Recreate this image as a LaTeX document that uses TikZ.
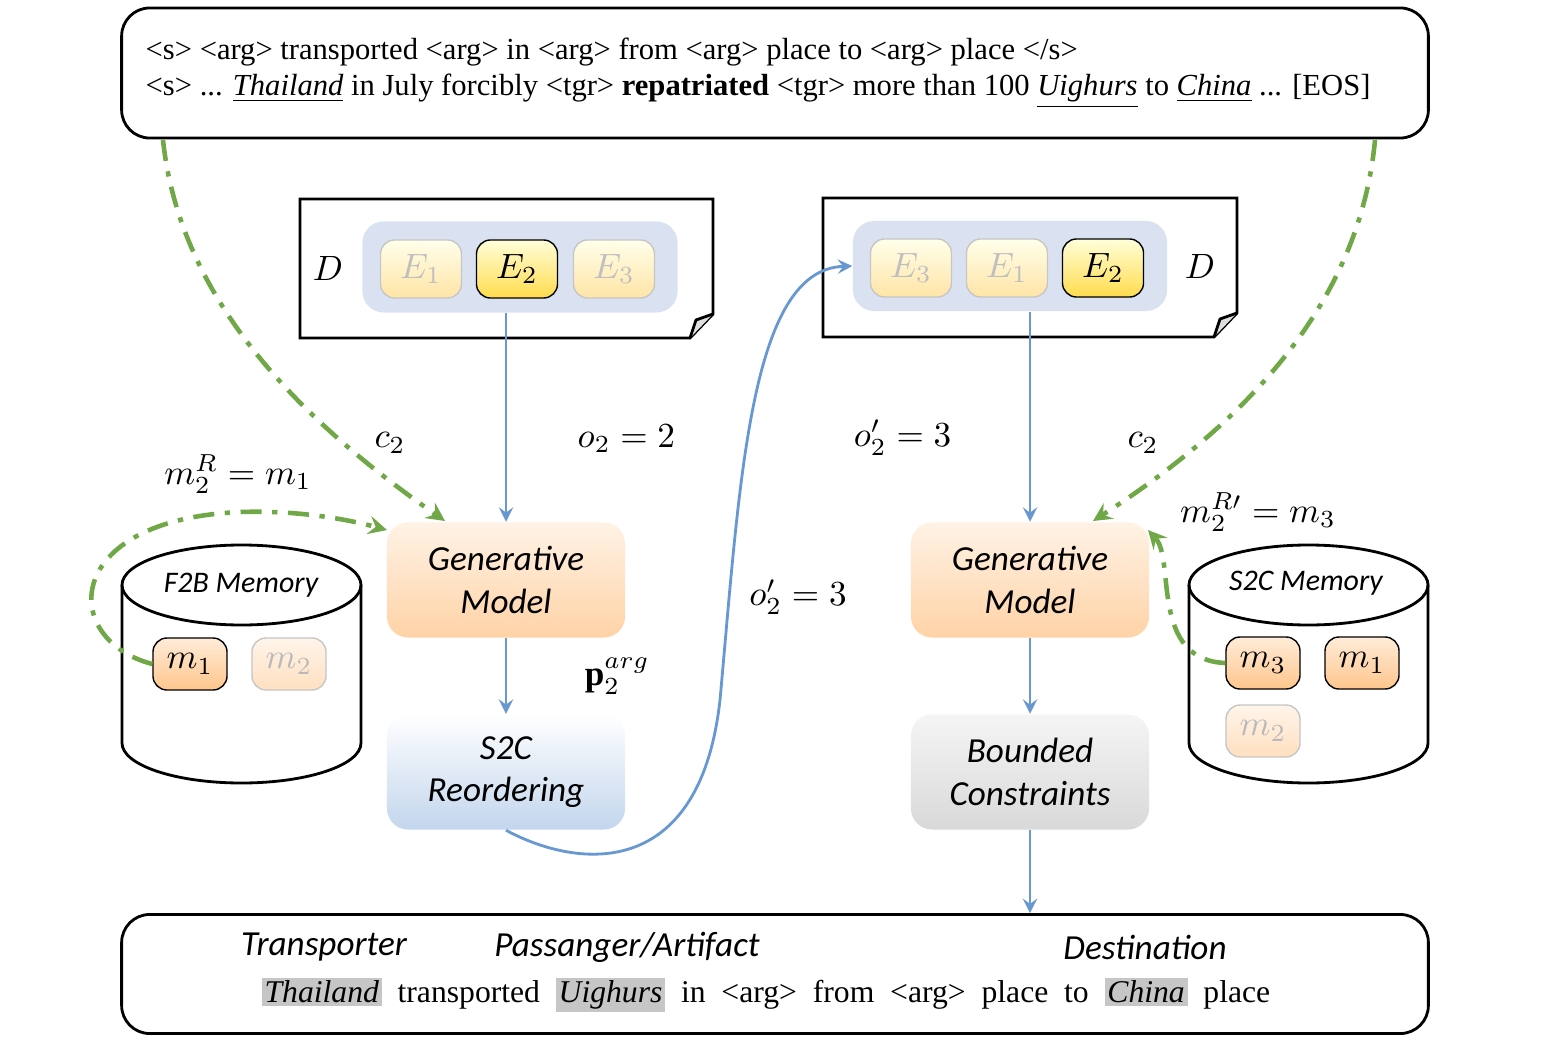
\documentclass[tikz,border=0pt]{standalone}
\usepackage{fontspec}
\setmainfont{Liberation Serif}
\newfontfamily\carl{Carlito}
\usepackage{amsmath}
\usetikzlibrary{positioning}
\usetikzlibrary{calc}
\definecolor{flowblue}{RGB}{104,152,210}
\definecolor{dashgreen}{RGB}{112,168,72}
\definecolor{innerblue}{RGB}{218,226,242}
\tikzstyle{arrow}= [thick, ->, >=stealth, flowblue]
\tikzstyle{garrow}= [line width=1.3pt, ->, >=stealth, dashgreen, dash pattern=on 6pt off 3pt on 1.5pt off 3pt]
\newcommand{\hlw}[1]{{\setlength{\fboxsep}{0.8pt}\colorbox{gray!45}{\textit{#1}}}}

\begin{document}
\begin{tikzpicture}[
		x=0.01cm, y=-0.01cm,
    every node/.style={inner sep=0pt},
    panel/.style={draw,thick,rounded corners=8pt},
    block/.style={rounded corners=6pt,minimum width=2.38cm,minimum height=1.15cm,
      align=center,font=\carl\itshape\fontsize{10}{12}\selectfont},
    ebox/.style={draw,rounded corners=4pt,minimum width=0.81cm,minimum height=0.58cm,
      top color=yellow!15,bottom color=yellow!60!orange!70,font=\fontsize{10}{12}\selectfont},
    faded/.style={draw=gray!45,top color=yellow!8,bottom color=yellow!40!orange!35,text=gray!50},
    mbox/.style={draw,rounded corners=4pt,minimum width=0.74cm,minimum height=0.52cm,
      top color=orange!15,bottom color=orange!45,font=\fontsize{10}{12}\selectfont},
    mfaded/.style={draw=gray!45,top color=orange!8,bottom color=orange!25,text=gray!55},
    lab/.style={font=\fontsize{10}{12}\selectfont,text=black}
	]
  \useasboundingbox (0,0) rectangle (1564,1040);

  % top sentence
  \node[panel,minimum width=13.06cm,minimum height=1.30cm] (top) at (775,73) {};
  \node[anchor=west,align=left,font=\fontsize{8.7}{10.3}\selectfont] (sent) at (145,73)
    {<s> <arg> transported <arg> in <arg> from <arg> place to <arg> place </s>\\
     <s> ... \underline{\textit{Thailand}} in July forcibly <tgr> \textbf{repatriated} <tgr> more than 100 \underline{\textit{Uighurs}} to \underline{\textit{China}} ... [EOS]};

  % left document
  \draw[thick] (300,199) -- (713,199) -- (713,314) -- (690,338) -- (300,338) -- cycle;
  \draw[thick,fill=gray!25] (713,314) -- (696,320) -- (690,338);
  \node[fill=innerblue,rounded corners=6pt,minimum width=3.15cm,minimum height=0.91cm] (innl) at (520,267) {};
  \node[ebox,faded] (E1l) at (421,269) {$E_1$};
  \node[ebox] (E2l) at (517,269) {$E_2$};
  \node[ebox,faded] (E3l) at (614,269) {$E_3$};
  \node[lab] (Dl) at (328,268) {$D$};

  % right document
  \draw[thick] (823,198) -- (1237,198) -- (1237,313) -- (1214,337) -- (823,337) -- cycle;
  \draw[thick,fill=gray!25] (1237,313) -- (1220,319) -- (1214,337);
  \node[fill=innerblue,rounded corners=6pt,minimum width=3.14cm,minimum height=0.90cm] (innr) at (1010,266) {};
  \node[ebox,faded] (E3r) at (911,268) {$E_3$};
  \node[ebox,faded] (E1r) at (1007,268) {$E_1$};
  \node[ebox] (E2r) at (1103,268) {$E_2$};
  \node[lab] (Dr) at (1200,266) {$D$};

  % blocks
  \node[block,top color=orange!10,bottom color=orange!35] (gml) at (506,580) {Generative\\Model};
  \node[block,top color=white,bottom color=flowblue!40] (s2c) at (506,772) {S2C\\Reordering};
  \node[block,top color=orange!10,bottom color=orange!35] (gmr) at (1030,580) {Generative\\Model};
  \node[block,top color=gray!8,bottom color=gray!30] (bnd) at (1030,772) {Bounded\\Constraints};

  % memories
  \draw[thick] (122,585) -- (122,743) arc[start angle=180,end angle=360,x radius=119.5,y radius=-40] -- (361,585);
  \draw[thick] (241.5,585) ellipse[x radius=119.5,y radius=40];
  \node[font=\carl\itshape\fontsize{8.5}{10}\selectfont] (f2b) at (241,585) {F2B Memory};
  \node[mbox] (m1l) at (190,664) {$m_1$};
  \node[mbox,mfaded] (m2l) at (289,664) {$m_2$};

  \draw[thick] (1189,585) -- (1189,743) arc[start angle=180,end angle=360,x radius=119.5,y radius=-40] -- (1428,585);
  \draw[thick] (1308.5,585) ellipse[x radius=119.5,y radius=40];
  \node[font=\carl\itshape\fontsize{8.5}{10}\selectfont] (s2cm) at (1306,583) {S2C Memory};
  \node[mbox] (m3r) at (1263,663) {$m_3$};
  \node[mbox] (m1r) at (1362,663) {$m_1$};
  \node[mbox,mfaded] (m2r) at (1263,731) {$m_2$};

  % bottom output
  \node[panel,minimum width=13.06cm,minimum height=1.19cm] (out) at (775,974) {};
  \node[font=\carl\itshape\fontsize{10}{12}\selectfont] (rtr) at (324,947) {Transporter};
  \node[font=\carl\itshape\fontsize{10}{12}\selectfont] (rpa) at (627,947) {Passanger/Artifact};
  \node[font=\carl\itshape\fontsize{10}{12}\selectfont] (rde) at (1145,947) {Destination};
  \node[font=\fontsize{9}{11}\selectfont] (res) at (766,995)
    {\hlw{Thailand}~ transported ~\hlw{Uighurs}~ in ~<arg>~ from ~<arg>~ place ~to~ \hlw{China}~ place};

  % flow
  \draw[arrow] (gml.north|-innl.south) -- (gml.north) node[lab,pos=0.6,right=20pt] {$o_2 = 2$};
  \draw[arrow] (gml) -- (s2c) node[lab,midway,right=22pt] {$\mathbf{p}_2^{arg}$};
  \draw[arrow] (gmr.north|-innr.south) -- (gmr.north) node[lab,pos=0.6,left=22pt] {$o_2' = 3$};
  \draw[arrow] (gmr) -- (bnd);
  \draw[arrow] (bnd) -- (bnd|-out.north);
  \draw[arrow] (s2c.south) .. controls (580,870) and (700,880) .. (720,700)
    .. controls (740,480) and (750,270) .. (innr.west);
  \node[lab] (ol) at (798,597) {$o_2' = 3$};

  % memory reads
  \coordinate (tl) at (163,140);
  \coordinate (tr) at (1375,140);
  \coordinate (gin) at (445,521);
  \coordinate (gir) at (1093,521);
  \coordinate (gwl) at (387,530);
  \coordinate (gwr) at (1148,530);
  \draw[garrow] (tl) .. controls (180,300) and (300,420) .. (gin);
  \node[lab] (cl) at (390,443) {$c_2$};
  \draw[garrow] (tr) .. controls (1360,300) and (1250,420) .. (gir);
  \node[lab] (cr) at (1143,443) {$c_2$};
  \draw[garrow] (m1l.west) .. controls (60,640) and (60,520) .. (240,512) .. controls (300,510) and (350,520) .. (gwl);
  \node[lab] (mrl) at (238,474) {$m_2^{R} = m_1$};
  \draw[garrow] (m3r.west) .. controls (1150,660) and (1175,560) .. (gwr);
  \node[lab] (mrr) at (1258,512) {$m_2^{R\prime} = m_3$};
\end{tikzpicture}
\end{document}
